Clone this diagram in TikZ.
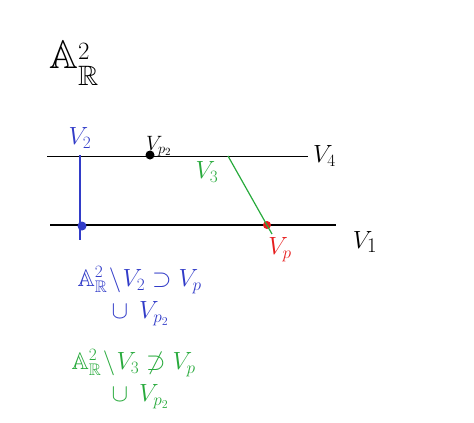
\documentclass[tikz,border=0pt]{standalone}
\usepackage{amsmath}
\usepackage{amsfonts}
\usepackage{amssymb}
\usepackage{xcolor}
\usetikzlibrary{positioning}
\definecolor{penblue}{RGB}{50,60,200}
\definecolor{pengreen}{RGB}{40,170,60}
\definecolor{penred}{RGB}{230,30,30}
\newcommand{\fs}[1]{\fontsize{#1}{#1}\selectfont}
\begin{document}
\begin{tikzpicture}
		[x=1pt,y=-1pt,dot/.style={circle,fill,inner sep=0pt,minimum size=9pt},
		lbl/.style={inner sep=1pt,font=\fs{26}},
		stmt/.style={font=\fs{24},anchor=west}] 
		\useasboundingbox (0,0) rectangle (474,423);
		\node[font=\fs{40}] (aff) at (74,63) {$\mathbb{A}^2_{\mathbb{R}}$};
		% lines
		\coordinate (l4a) at (47,156);
		\coordinate (l4b) at (308,156);
		\coordinate (l1a) at (50,225);
		\coordinate (l1b) at (336,225);
		\draw[line width=1pt] (l4a) -- (l4b);
		\draw[line width=2pt] (l1a) -- (l1b);
		\node[lbl,right=4pt of l4b] (v4) {$V_4$};
		\node[lbl,font=\fs{32}] (v1) at (365,242) {$V_1$};
		% points
		\node[dot,penblue] (q) at (82,226) {};
		\node[dot,black] (p2) at (150,155) {};
		\node[dot,penred,minimum size=8pt] (p) at (267,225) {};
		\node[lbl,font=\fs{21},anchor=west] (vp2) at (145,146) {$V_{p_2}$};
		\node[lbl,penred] (vp) at (280,250) {$V_p$};
		% V_2 and V_3
		\coordinate (v2top) at (80,155);
		\coordinate (v2bot) at (80,240);
		\draw[penblue,line width=1.2pt] (v2top) -- (v2bot);
		\node[lbl,penblue] (v2) at (80,138) {$V_2$};
		\coordinate (v3top) at (228,156);
		\coordinate (v3bot) at (272,234);
		\draw[pengreen,line width=1.2pt] (v3top) -- (v3bot);
		\node[lbl,pengreen] (v3) at (207,172) {$V_3$};
		% statements
		\node[stmt,penblue] (s1) at (74,280)
			{$\mathbb{A}^2_{\mathbb{R}}\!\setminus\! V_2 \supset V_p$};
		\node[stmt,penblue] (s2) at (108,314)
			{$\cup\;\, V_{p_2}$};
		\node[stmt,pengreen] (s3) at (68,363)
			{$\mathbb{A}^2_{\mathbb{R}}\!\setminus\! V_3 \not\supset V_p$};
		\node[stmt,pengreen] (s4) at (108,397)
			{$\cup\;\, V_{p_2}$};
		\end{tikzpicture}
\end{document}
